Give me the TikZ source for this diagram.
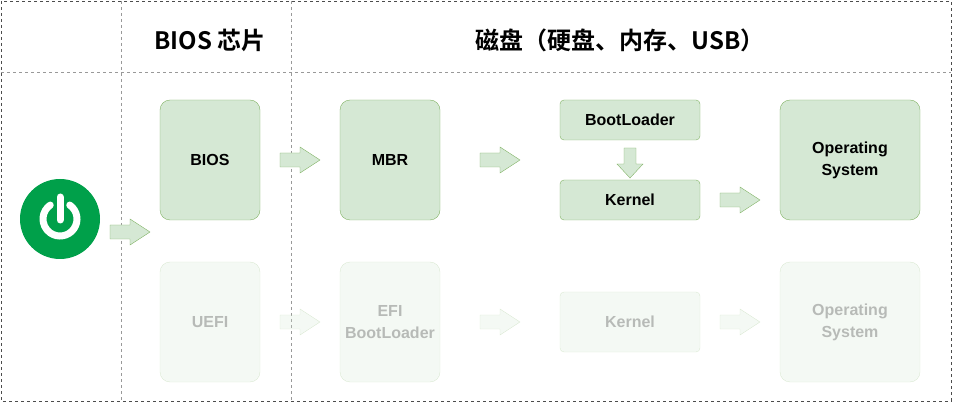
\documentclass[tikz,border=0pt]{standalone}
\usepackage{fontspec}
\setmainfont{Liberation Sans}
\newfontfamily\cjk{Noto Sans CJK SC}[BoldFont={Noto Sans CJK SC Bold}]
\definecolor{gfill}{HTML}{D5E8D4}
\definecolor{gline}{HTML}{82B366}
\definecolor{pgreen}{HTML}{00A04A}
\begin{document}
\begin{tikzpicture}[x=1pt,y=-1pt,
  box/.style={draw=gline,fill=gfill,rounded corners=10pt,font=\bfseries\fontsize{16}{22}\selectfont,align=center,inner sep=0},
  sbox/.style={draw=gline,fill=gfill,rounded corners=4pt,font=\bfseries\fontsize{16}{22}\selectfont,align=center,inner sep=0},
  faded/.style={opacity=0.25},
  pics/barrow/.style={code={\path[draw=gline,fill=gfill] (-20,-7) -- (0,-7) -- (0,-13) -- (20,0) -- (0,13) -- (0,7) -- (-20,7) -- cycle;}},
  pics/sarrow/.style={code={\path[draw=gline,fill=gfill] (-15,-6) -- (1,-6) -- (1,-13) -- (15,0) -- (1,13) -- (1,6) -- (-15,6) -- cycle;}},
  grid/.style={draw=gray!80,dashed,line width=0.6pt},
  hdr/.style={font=\cjk\bfseries\fontsize{24}{26}\selectfont}]
\useasboundingbox (0,0) rectangle (953,403);
\draw[grid,draw=black!70] (1,1) rectangle (951,401);
\draw[grid] (1,72) -- (951,72);
\draw[grid] (121,1) -- (121,401);
\draw[grid] (291,1) -- (291,401);
\node[hdr] (h1) at (210,40) {BIOS 芯片};
\node[hdr] (h2) at (620,40) {磁盘（硬盘、内存、USB）};
% power
\node[circle,fill=pgreen,minimum size=80pt,inner sep=0] (pw) at (60,219) {};
\draw[white,line width=7pt,line cap=round] (60,219) ++(-55:17) arc[start angle=-55,end angle=235,radius=17];
\draw[white,line width=7pt,line cap=round] (60,220) -- (60,197);
% top row
\node[box,minimum width=100pt,minimum height=120pt] (bios) at (210,160) {BIOS};
\node[box,minimum width=100pt,minimum height=120pt] (mbr) at (390,160) {MBR};
\node[sbox,minimum width=140pt,minimum height=40pt] (bl) at (630,120) {BootLoader};
\node[sbox,minimum width=140pt,minimum height=40pt] (k) at (630,200) {Kernel};
\node[box,minimum width=140pt,minimum height=120pt] (os) at (850,160) {Operating\\System};
\pic at (130,232) {barrow};
\pic at (300,160) {barrow};
\pic at (500,160) {barrow};
\pic at (740,200) {barrow};
\pic[rotate=-90] at (630,163) {sarrow};
% bottom row
\begin{scope}[faded]
\node[box,minimum width=100pt,minimum height=120pt] (uefi) at (210,322) {UEFI};
\node[box,minimum width=100pt,minimum height=120pt] (efi) at (390,322) {EFI\\BootLoader};
\node[sbox,minimum width=140pt,minimum height=60pt] (k2) at (630,322) {Kernel};
\node[box,minimum width=140pt,minimum height=120pt] (os2) at (850,322) {Operating\\System};
\pic at (300,322) {barrow};
\pic at (500,322) {barrow};
\pic at (740,322) {barrow};
\end{scope}
\end{tikzpicture}
\end{document}
